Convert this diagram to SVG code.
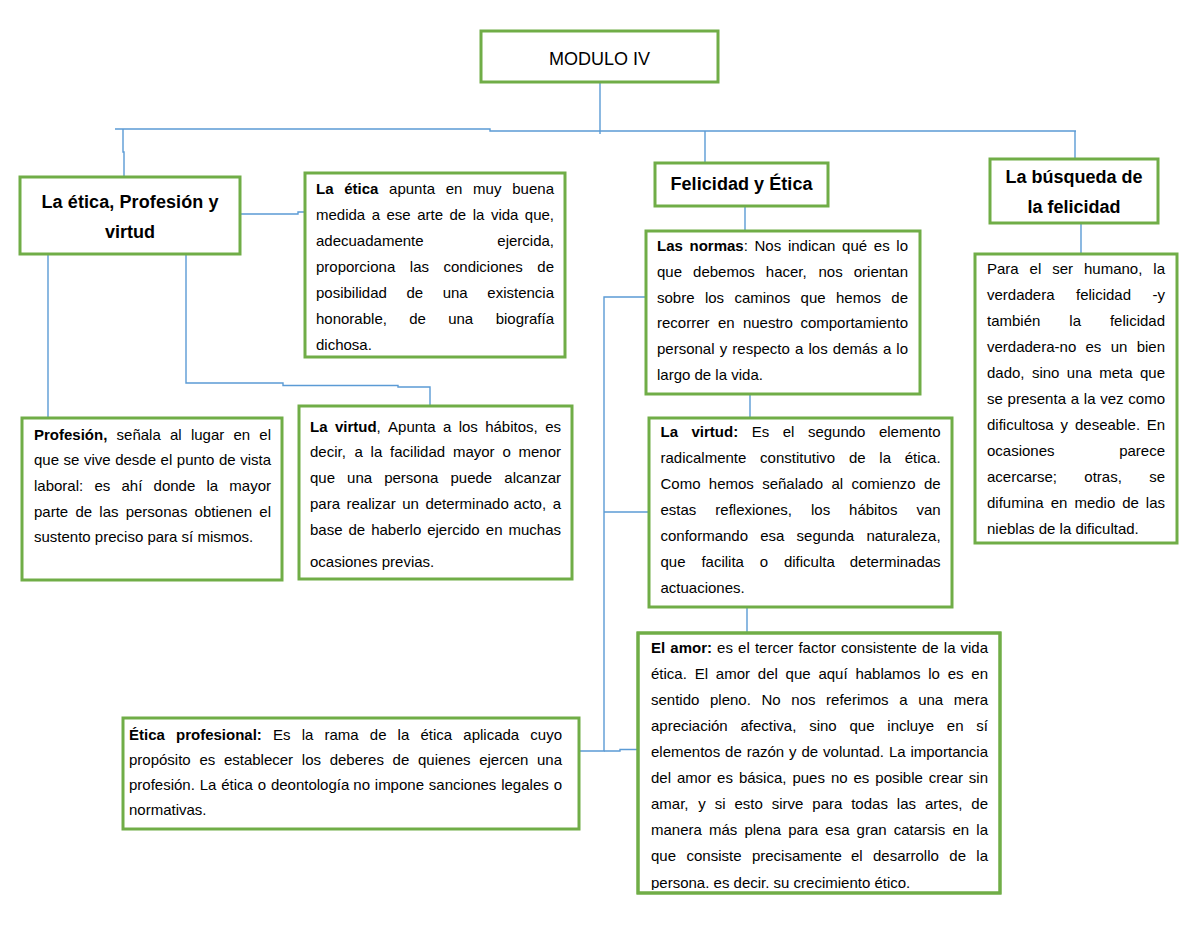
<svg xmlns="http://www.w3.org/2000/svg" width="1200" height="927" viewBox="0 0 1200 927">
<style>
.box{fill:#fff;stroke:#70AD47;stroke-width:3}
.ln{fill:none;stroke:#5B9BD5;stroke-width:1.4}
text{font-family:"Liberation Sans",Arial,sans-serif;font-size:15px;fill:#000}
.h{font-size:18px;font-weight:bold}
.b{font-weight:bold}
.m{text-anchor:middle}
.e{text-anchor:end}
</style>
<defs>
<clipPath id="amorClip"><rect x="638" y="633" width="362" height="257"/></clipPath>
</defs>
<rect width="1200" height="927" fill="#fff"/>
<g id="connectors">
<polyline class="ln" points="600,82 600,134"/>
<polyline class="ln" points="115,129 490,129 490,131 1076,131"/>
<polyline class="ln" points="123,129 123,152 124,152 124,177"/>
<polyline class="ln" points="705,131 705,163"/>
<polyline class="ln" points="1075,131 1075,159"/>
<polyline class="ln" points="240,214 298,214 298,212 305,212"/>
<polyline class="ln" points="48,254 48,418"/>
<polyline class="ln" points="186,254 186,383 283,383 283,385.5 398,385.5 398,387 430,387 430,406"/>
<polyline class="ln" points="745,206 745,231"/>
<polyline class="ln" points="1081,223 1081,254"/>
<polyline class="ln" points="646,297 604,297 604,751 579,751"/>
<polyline class="ln" points="604,512 648,512"/>
<polyline class="ln" points="604,751 620,751 620,749.5 638,749.5"/>
<polyline class="ln" points="750,394 750,418"/>
<polyline class="ln" points="747,607 747,633"/>
</g>
<g id="modulo">
<rect class="box" x="481" y="31" width="237" height="51"/>
<text class="m" x="599.5" y="65" style="font-size:18px">MODULO IV</text>
</g>
<g id="etica-profesion-virtud">
<rect class="box" x="20" y="177" width="220" height="77"/>
<text class="h m" x="130" y="208" textLength="177" lengthAdjust="spacing">La ética, Profesión y</text>
<text class="h m" x="130" y="238">virtud</text>
</g>
<g id="la-etica">
<rect class="box" x="305" y="173" width="260" height="184"/>
<text class="b" x="316" y="194">La</text>
<text class="b" x="344.2" y="194">ética</text>
<text x="389.1" y="194">apunta</text>
<text x="445.7" y="194">en</text>
<text x="473.1" y="194">muy</text>
<text class="e" x="554" y="194">buena</text>
<text x="316" y="220">medida</text>
<text x="371.7" y="220">a</text>
<text x="386.5" y="220">ese</text>
<text x="417.2" y="220">arte</text>
<text x="449.5" y="220">de</text>
<text x="472.7" y="220">la</text>
<text x="490.9" y="220">vida</text>
<text class="e" x="554" y="220">que,</text>
<text x="316" y="246">adecuadamente</text>
<text class="e" x="554" y="246">ejercida,</text>
<text x="316" y="272">proporciona</text>
<text x="409.8" y="272">las</text>
<text x="443.5" y="272">condiciones</text>
<text class="e" x="554" y="272">de</text>
<text x="316" y="298">posibilidad</text>
<text x="406.4" y="298">de</text>
<text x="442.7" y="298">una</text>
<text class="e" x="554" y="298">existencia</text>
<text x="316" y="324">honorable,</text>
<text x="409.2" y="324">de</text>
<text x="448.2" y="324">una</text>
<text class="e" x="554" y="324">biografía</text>
<text x="316" y="350">dichosa.</text>
</g>
<g id="profesion">
<rect class="box" x="22" y="418" width="260" height="162"/>
<text class="b" x="34" y="440">Profesión,</text>
<text x="116.6" y="440">señala</text>
<text x="170" y="440">al</text>
<text x="190.9" y="440">lugar</text>
<text x="233.5" y="440">en</text>
<text class="e" x="271" y="440">el</text>
<text x="34" y="465">que</text>
<text x="63.6" y="465">se</text>
<text x="84" y="465">vive</text>
<text x="115.2" y="465">desde</text>
<text x="160.6" y="465">el</text>
<text x="176.8" y="465">punto</text>
<text x="218.9" y="465">de</text>
<text class="e" x="271" y="465">vista</text>
<text x="34" y="491">laboral:</text>
<text x="94.4" y="491">es</text>
<text x="121.5" y="491">ahí</text>
<text x="153.6" y="491">donde</text>
<text x="206.5" y="491">la</text>
<text class="e" x="271" y="491">mayor</text>
<text x="34" y="517">parte</text>
<text x="75.4" y="517">de</text>
<text x="99.3" y="517">las</text>
<text x="125.7" y="517">personas</text>
<text x="194.6" y="517">obtienen</text>
<text class="e" x="271" y="517">el</text>
<text x="34" y="542">sustento preciso para sí mismos.</text>
</g>
<g id="la-virtud-habitos">
<rect class="box" x="299" y="406" width="273" height="173"/>
<text class="b" x="310" y="432">La</text>
<text x="334.9" y="432"><tspan class="b">virtud</tspan>,</text>
<text x="388.1" y="432">Apunta</text>
<text x="443" y="432">a</text>
<text x="458.7" y="432">los</text>
<text x="485.2" y="432">hábitos,</text>
<text class="e" x="561" y="432">es</text>
<text x="310" y="457">decir,</text>
<text x="354.5" y="457">a</text>
<text x="370.6" y="457">la</text>
<text x="390.1" y="457">facilidad</text>
<text x="452.9" y="457">mayor</text>
<text x="502.4" y="457">o</text>
<text class="e" x="561" y="457">menor</text>
<text x="310" y="483">que</text>
<text x="347.1" y="483">una</text>
<text x="384.2" y="483">persona</text>
<text x="450.5" y="483">puede</text>
<text class="e" x="561" y="483">alcanzar</text>
<text x="310" y="509">para</text>
<text x="346.5" y="509">realizar</text>
<text x="402.2" y="509">un</text>
<text x="425.4" y="509">determinado</text>
<text x="513.6" y="509">acto,</text>
<text class="e" x="561" y="509">a</text>
<text x="310" y="535">base</text>
<text x="348.5" y="535">de</text>
<text x="371.2" y="535">haberlo</text>
<text x="427.2" y="535">ejercido</text>
<text x="485.8" y="535">en</text>
<text class="e" x="561" y="535">muchas</text>
<text x="310" y="567">ocasiones previas.</text>
</g>
<g id="felicidad-etica">
<rect class="box" x="655" y="163" width="173" height="43"/>
<text class="h m" x="741.5" y="190" textLength="142" lengthAdjust="spacing">Felicidad y Ética</text>
</g>
<g id="las-normas">
<rect class="box" x="646" y="231" width="274" height="163"/>
<text class="b" x="657" y="251">Las</text>
<text x="689.5" y="251"><tspan class="b">normas</tspan>:</text>
<text x="754.5" y="251">Nos</text>
<text x="787.9" y="251">indican</text>
<text x="842.1" y="251">qué</text>
<text x="873.8" y="251">es</text>
<text class="e" x="908" y="251">lo</text>
<text x="657" y="277">que</text>
<text x="693.1" y="277">debemos</text>
<text x="765.8" y="277">hacer,</text>
<text x="818.5" y="277">nos</text>
<text class="e" x="908" y="277">orientan</text>
<text x="657" y="303">sobre</text>
<text x="704.9" y="303">los</text>
<text x="734.4" y="303">caminos</text>
<text x="800.6" y="303">que</text>
<text x="836" y="303">hemos</text>
<text class="e" x="908" y="303">de</text>
<text x="657" y="328">recorrer</text>
<text x="717.9" y="328">en</text>
<text x="742.9" y="328">nuestro</text>
<text class="e" x="908" y="328">comportamiento</text>
<text x="657" y="354">personal</text>
<text x="719.7" y="354">y</text>
<text x="732.3" y="354">respecto</text>
<text x="795" y="354">a</text>
<text x="808.5" y="354">los</text>
<text x="832.8" y="354">demás</text>
<text x="883" y="354">a</text>
<text class="e" x="908" y="354">lo</text>
<text x="657" y="380">largo de la vida.</text>
</g>
<g id="la-virtud-elemento">
<rect class="box" x="649" y="418" width="303" height="189"/>
<text class="b" x="660.5" y="437">La</text>
<text class="b" x="691.5" y="437">virtud:</text>
<text x="751.7" y="437">Es</text>
<text x="782.7" y="437">el</text>
<text x="807.9" y="437">segundo</text>
<text class="e" x="940.6" y="437">elemento</text>
<text x="660.5" y="463">radicalmente</text>
<text x="760.1" y="463">constitutivo</text>
<text x="848.9" y="463">de</text>
<text x="879.3" y="463">la</text>
<text class="e" x="940.6" y="463">ética.</text>
<text x="660.5" y="489">Como</text>
<text x="708.8" y="489">hemos</text>
<text x="762.2" y="489">señalado</text>
<text x="831.4" y="489">al</text>
<text x="851.4" y="489">comienzo</text>
<text class="e" x="940.6" y="489">de</text>
<text x="660.5" y="515">estas</text>
<text x="715.3" y="515">reflexiones,</text>
<text x="811" y="515">los</text>
<text x="849.1" y="515">hábitos</text>
<text class="e" x="940.6" y="515">van</text>
<text x="660.5" y="541">conformando</text>
<text x="760.2" y="541">esa</text>
<text x="796.6" y="541">segunda</text>
<text class="e" x="940.6" y="541">naturaleza,</text>
<text x="660.5" y="567">que</text>
<text x="701.4" y="567">facilita</text>
<text x="759.7" y="567">o</text>
<text x="783.9" y="567">dificulta</text>
<text class="e" x="940.6" y="567">determinadas</text>
<text x="660.5" y="593">actuaciones.</text>
</g>
<g id="el-amor">
<rect class="box" x="638" y="633" width="362" height="260"/>
<g clip-path="url(#amorClip)">
<text class="b" x="651" y="653">El</text>
<text class="b" x="670.3" y="653">amor:</text>
<text x="717.1" y="653">es</text>
<text x="738.1" y="653">el</text>
<text x="754.9" y="653">tercer</text>
<text x="798.4" y="653">factor</text>
<text x="841" y="653">consistente</text>
<text x="922" y="653">de</text>
<text x="943.8" y="653">la</text>
<text class="e" x="988" y="653">vida</text>
<text x="651" y="679">ética.</text>
<text x="694.7" y="679">El</text>
<text x="715.8" y="679">amor</text>
<text x="757.8" y="679">del</text>
<text x="785.6" y="679">que</text>
<text x="818.4" y="679">aquí</text>
<text x="855.4" y="679">hablamos</text>
<text x="928.2" y="679">lo</text>
<text x="947.7" y="679">es</text>
<text class="e" x="988" y="679">en</text>
<text x="651" y="705">sentido</text>
<text x="710" y="705">pleno.</text>
<text x="761.5" y="705">No</text>
<text x="791.3" y="705">nos</text>
<text x="826.1" y="705">referimos</text>
<text x="899.2" y="705">a</text>
<text x="918.2" y="705">una</text>
<text class="e" x="988" y="705">mera</text>
<text x="651" y="731">apreciación</text>
<text x="740.5" y="731">afectiva,</text>
<text x="809.2" y="731">sino</text>
<text x="849.5" y="731">que</text>
<text x="887.3" y="731">incluye</text>
<text x="946.8" y="731">en</text>
<text class="e" x="988" y="731">sí</text>
<text x="651" y="757">elementos</text>
<text x="725.1" y="757">de</text>
<text x="746.7" y="757">razón</text>
<text x="789.1" y="757">y</text>
<text x="801.5" y="757">de</text>
<text x="823.1" y="757">voluntad.</text>
<text x="888.9" y="757">La</text>
<text class="e" x="988" y="757">importancia</text>
<text x="651" y="783">del</text>
<text x="677" y="783">amor</text>
<text x="717.1" y="783">es</text>
<text x="738.9" y="783">básica,</text>
<text x="792.4" y="783">pues</text>
<text x="830.9" y="783">no</text>
<text x="853.5" y="783">es</text>
<text x="875.3" y="783">posible</text>
<text x="928.8" y="783">crear</text>
<text class="e" x="988" y="783">sin</text>
<text x="651" y="809">amar,</text>
<text x="698.3" y="809">y</text>
<text x="714.7" y="809">si</text>
<text x="734.4" y="809">esto</text>
<text x="771.7" y="809">sirve</text>
<text x="812.3" y="809">para</text>
<text x="851.2" y="809">todas</text>
<text x="896.8" y="809">las</text>
<text x="924.9" y="809">artes,</text>
<text class="e" x="988" y="809">de</text>
<text x="651" y="835">manera</text>
<text x="709" y="835">más</text>
<text x="744.4" y="835">plena</text>
<text x="788.2" y="835">para</text>
<text x="825.3" y="835">esa</text>
<text x="856.6" y="835">gran</text>
<text x="893.7" y="835">catarsis</text>
<text x="952.5" y="835">en</text>
<text class="e" x="988" y="835">la</text>
<text x="651" y="861">que</text>
<text x="686.5" y="861">consiste</text>
<text x="751.9" y="861">precisamente</text>
<text x="850.9" y="861">el</text>
<text x="873" y="861">desarrollo</text>
<text x="949.3" y="861">de</text>
<text class="e" x="988" y="861">la</text>
<text x="651" y="888">persona. es decir. su crecimiento ético.</text>
</g>
<rect x="638" y="633" width="362" height="260" fill="none" stroke="#70AD47" stroke-width="3"/>
</g>
<g id="etica-profesional">
<rect class="box" x="123" y="718" width="456" height="111"/>
<text class="b" x="129" y="740">Ética</text>
<text class="b" x="176" y="740">profesional:</text>
<text x="273" y="740">Es</text>
<text x="301.7" y="740">la</text>
<text x="324.5" y="740">rama</text>
<text x="369.8" y="740">de</text>
<text x="397.6" y="740">la</text>
<text x="420.5" y="740">ética</text>
<text x="463.3" y="740">aplicada</text>
<text class="e" x="562" y="740">cuyo</text>
<text x="129" y="765">propósito</text>
<text x="199.4" y="765">es</text>
<text x="223.9" y="765">establecer</text>
<text x="301.8" y="765">los</text>
<text x="329.7" y="765">deberes</text>
<text x="392.6" y="765">de</text>
<text x="418" y="765">quienes</text>
<text x="479.2" y="765">ejercen</text>
<text class="e" x="562" y="765">una</text>
<text x="129" y="790">profesión.</text>
<text x="199.7" y="790">La</text>
<text x="221.2" y="790">ética</text>
<text x="257.7" y="790">o</text>
<text x="270.9" y="790">deontología</text>
<text x="353.3" y="790">no</text>
<text x="374.8" y="790">impone</text>
<text x="428.8" y="790">sanciones</text>
<text x="501.2" y="790">legales</text>
<text class="e" x="562" y="790">o</text>
<text x="129" y="815">normativas.</text>
</g>
<g id="busqueda-felicidad">
<rect class="box" x="990" y="159" width="168" height="64"/>
<text class="h m" x="1074" y="183" textLength="137" lengthAdjust="spacing">La búsqueda de</text>
<text class="h m" x="1074" y="213">la felicidad</text>
</g>
<g id="ser-humano">
<rect class="box" x="975" y="254" width="202" height="289"/>
<text x="987" y="274">Para</text>
<text x="1029.6" y="274">el</text>
<text x="1052.2" y="274">ser</text>
<text x="1084" y="274">humano,</text>
<text class="e" x="1165" y="274">la</text>
<text x="987" y="300">verdadera</text>
<text x="1076" y="300">felicidad</text>
<text class="e" x="1165" y="300">-y</text>
<text x="987" y="326">también</text>
<text x="1069.3" y="326">la</text>
<text class="e" x="1165" y="326">felicidad</text>
<text x="987" y="352">verdadera-no</text>
<text x="1085.5" y="352">es</text>
<text x="1110.7" y="352">un</text>
<text class="e" x="1165" y="352">bien</text>
<text x="987" y="378">dado,</text>
<text x="1031.9" y="378">sino</text>
<text x="1066.8" y="378">una</text>
<text x="1099.2" y="378">meta</text>
<text class="e" x="1165" y="378">que</text>
<text x="987" y="404">se</text>
<text x="1007.6" y="404">presenta</text>
<text x="1070.7" y="404">a</text>
<text x="1083.8" y="404">la</text>
<text x="1100.2" y="404">vez</text>
<text class="e" x="1165" y="404">como</text>
<text x="987" y="430">dificultosa</text>
<text x="1060.6" y="430">y</text>
<text x="1075" y="430">deseable.</text>
<text class="e" x="1165" y="430">En</text>
<text x="987" y="456">ocasiones</text>
<text class="e" x="1165" y="456">parece</text>
<text x="987" y="482">acercarse;</text>
<text x="1084.3" y="482">otras,</text>
<text class="e" x="1165" y="482">se</text>
<text x="987" y="508">difumina</text>
<text x="1050.7" y="508">en</text>
<text x="1074.4" y="508">medio</text>
<text x="1122.2" y="508">de</text>
<text class="e" x="1165" y="508">las</text>
<text x="987" y="534">nieblas de la dificultad.</text>
</g>
</svg>
